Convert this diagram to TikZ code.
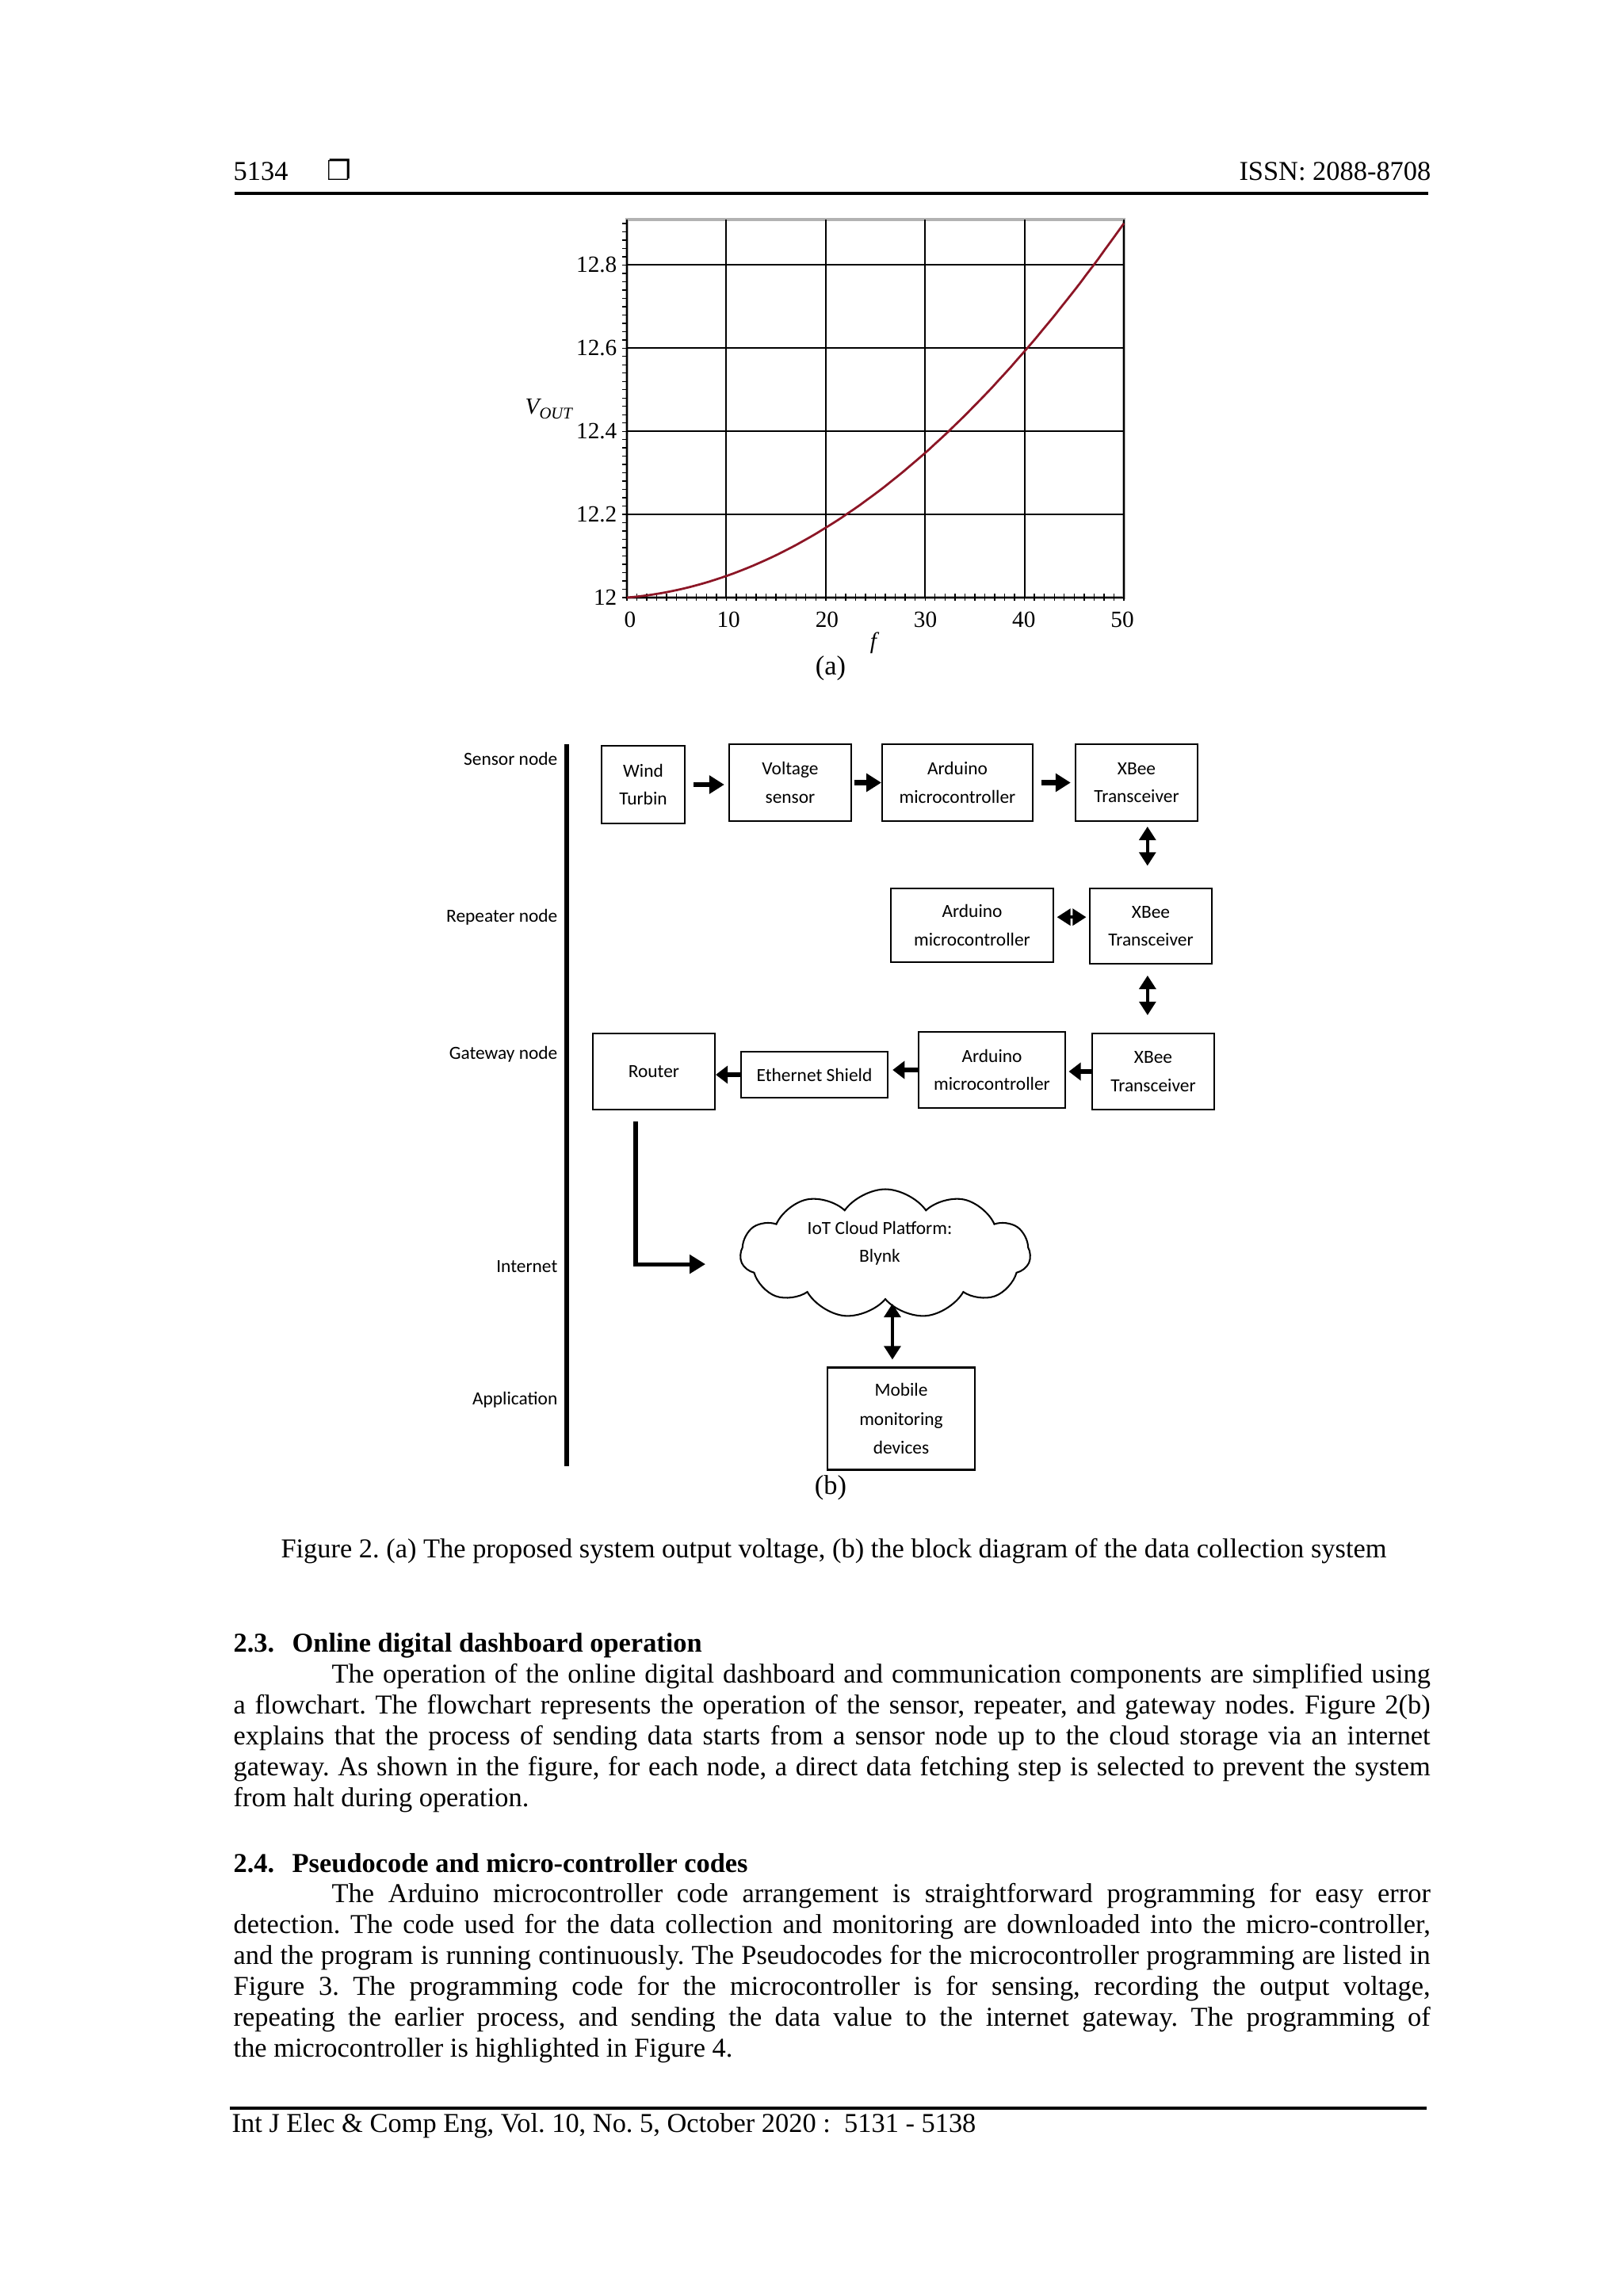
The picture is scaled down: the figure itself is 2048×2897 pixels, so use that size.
\documentclass[tikz,border=0pt]{standalone}
\usepackage{fontspec}
\setmainfont{Liberation Serif}
\newfontfamily\calfnt{Carlito}
\newfontfamily\djv{DejaVu Sans}
\usetikzlibrary{arrows.meta,shapes.symbols,calc}
\definecolor{curvec}{RGB}{140,22,38}
\frenchspacing
\newcommand\jl[1]{\hbox to 438.9pt{#1}}
\newcommand\ji[1]{\hbox to 402.9pt{#1}}
\tikzset{
  sz/.style 2 args={minimum width=#1*0.29067pt,minimum height=#2*0.29067pt},
  blk/.style={draw,line width=0.6pt,inner sep=0pt,align=center,font=\calfnt\fontsize{6.8}{10.3}\selectfont},
  lab/.style={anchor=east,inner sep=0pt,font=\calfnt\fontsize{6.8}{8}\selectfont},
  arr/.style={line width=2pt,-{Triangle[length=5.5pt,width=6.5pt]}},
  arrg/.style={line width=1.8pt,-{Triangle[length=4.4pt,width=6.4pt]}},
  dbl/.style={line width=1.3pt,{Triangle[length=5pt,width=6pt]}-{Triangle[length=5pt,width=6pt]}},
  larr/.style={line width=1.5pt,-{Triangle[length=5.8pt,width=6.7pt]}},
  txt/.style={anchor=base west,inner sep=0pt,font=\fontsize{10}{11.5}\selectfont},
  tck/.style={inner sep=0pt,font=\fontsize{8.5}{10}\selectfont},
}
\begin{document}
\begin{tikzpicture}[x=0.29067pt,y=-0.29067pt]
\fill[white] (0,0) rectangle (2048,2897);
\useasboundingbox (0,0) rectangle (2048,2897);

% header
\node[txt] (pg) at (294,227) {5134};
\node[txt,font=\djv\bfseries\fontsize{10}{12}\selectfont] (sym) at (412,227) {❐};
\node[txt,anchor=base east] (issn) at (1806,227) {ISSN: 2088-8708};
\draw[line width=0.9pt] (296,244) -- (1802,244);

% plot (a)
\draw[gray!60,line width=1pt] (791,277) rectangle (1418,754);
\foreach \k in {1,...,5} \draw[line width=0.6pt] ({791+125.4*\k},277) -- ({791+125.4*\k},754);
\foreach \k in {1,...,4} \draw[line width=0.6pt] (791,{754-104.9*\k}) -- (1418,{754-104.9*\k});
\foreach \k in {0,...,45} \draw[line width=0.4pt] (785,{754-10.49*\k}) -- (791,{754-10.49*\k});
\foreach \k in {0,...,50} \draw[line width=0.4pt] ({791+12.54*\k},749) -- ({791+12.54*\k},758);
\draw[line width=0.8pt] (791,277) -- (791,754) -- (1418,754);
\draw[curvec,line width=0.8pt] plot[domain=0:50,samples=80] ({791+12.54*\x},{754-524.5*(0.002*\x+0.000325*\x*\x)});
\foreach \v/\k in {12/0,12.2/1,12.4/2,12.6/3,12.8/4}
  \node[tck,anchor=east] (yl\k) at (779,{754-104.9*\k}) {\v};
\foreach \f in {0,10,20,30,40,50}
  \node[tck] (xl\f) at ({795+12.42*\f},782) {\f};
\node[tck,font=\itshape\fontsize{8.5}{10}\selectfont] (fl) at (1102,811) {f};
\node[tck,anchor=base west] (vl) at (662,522) {\itshape V\raisebox{-0.45ex}{\fontsize{6}{7}\selectfont OUT}};
\node[txt,anchor=base] (pa) at (1048,851) {(a)};

% diagram (b)
\draw[line width=1.6pt] (715,939) -- (715,1850);
\node[lab] (l1) at (704,957) {Sensor node};
\node[lab] (l2) at (704,1157) {Repeater node};
\node[lab] (l3) at (704,1330) {Gateway node};
\node[lab] (l4) at (704,1598) {Internet};
\node[lab] (l5) at (704,1766) {Application};

\node[blk,sz={105}{98}] (wt) at (811.5,990) {Wind\\Turbin};
\node[blk,sz={154}{97}] (vs) at (997,987.5) {Voltage\\sensor};
\node[blk,sz={190}{97}] (sa) at (1208,987.5) {Arduino\\microcontroller};
\node[blk,sz={154}{97}] (sx) at (1434,987.5) {XBee\\Transceiver};
\node[blk,sz={205}{93}] (ra) at (1226.5,1167.5) {Arduino\\microcontroller};
\node[blk,sz={154}{95}] (rx) at (1452,1168.5) {XBee\\Transceiver};
\node[blk,sz={154}{96}] (ro) at (825,1352) {Router};
\node[blk,sz={185}{58}] (es) at (1027.5,1356) {Ethernet Shield};
\node[blk,sz={185}{96}] (ga) at (1251.5,1350) {Arduino\\microcontroller};
\node[blk,sz={154}{96}] (gx) at (1455,1352) {XBee\\Transceiver};
\node[blk,cloud,cloud puffs=11,cloud puff arc=110,aspect=2.2,sz={366}{163}] (cl) at (1117,1582) {};
\node[blk,draw=none] (clt) at (1110,1569) {IoT Cloud Platform:\\Blynk};
\node[blk,sz={186}{129},font=\calfnt\fontsize{6.8}{10.5}\selectfont] (mob) at (1137,1790) {Mobile\\monitoring\\devices};
\node[txt,anchor=base] (pb) at (1048,1885) {(b)};

\draw[arr,shorten <=3pt,shorten >=1.5pt] (wt.east) -- (wt.east -| vs.west);
\draw[arr,shorten <=1pt] (vs.east) -- (vs.east -| sa.west);
\draw[arr,shorten <=3pt,shorten >=1.5pt] (sa.east) -- (sa.east -| sx.west);
\draw[dbl,shorten <=1.7pt,shorten >=8pt] ([xshift=4pt]sx.south) -- ([xshift=4pt]sx.south |- rx.north);
\draw[dbl,shorten <=1pt,shorten >=1pt] ([yshift=3pt]ra.east) -- ([yshift=3pt]ra.east -| rx.west);
\draw[dbl,shorten <=4pt,shorten >=6.4pt] ([xshift=-1.2pt]rx.south) -- ([xshift=-1.2pt]rx.south |- gx.north);
\draw[arrg,shorten >=1pt] (gx.west) -- (gx.west -| ga.east);
\draw[arrg,shorten >=1.5pt] (ga.west) -- (ga.west -| es.east);
\draw[arrg] (es.west) -- (es.west -| ro.east);
\draw[larr] ([xshift=-6.7pt,yshift=-4.1pt]ro.south) |- ([xshift=-12.5pt,yshift=-3.8pt]cl.west);
\draw[dbl,shorten <=1.2pt,shorten >=2.6pt] ([xshift=2.6pt]cl.south) -- ([xshift=2.6pt]cl.south |- mob.north);

% caption
\node[txt,anchor=base] (cap) at (1052,1965) {Figure 2. (a) The proposed system output voltage, (b) the block diagram of the data collection system};

% section 2.3
\node[txt,font=\bfseries\fontsize{10}{11.5}\selectfont] (h1n) at (294,2084) {2.3.};
\node[txt,font=\bfseries\fontsize{10}{11.5}\selectfont] (h1) at (368,2084) {Online digital dashboard operation};
\node[txt] (p1a) at (418,2123) {\ji{The operation of the online digital dashboard and communication components are simplified using}};
\node[txt] (p1b) at (294,2162) {\jl{a flowchart. The flowchart represents the operation of the sensor, repeater, and gateway nodes. Figure 2(b)}};
\node[txt] (p1c) at (294,2201) {\jl{explains that the process of sending data starts from a sensor node up to the cloud storage via an internet}};
\node[txt] (p1d) at (294,2240) {\jl{gateway. As shown in the figure, for each node, a direct data fetching step is selected to prevent the system}};
\node[txt] (p1e) at (294,2279) {from halt during operation.};

% section 2.4
\node[txt,font=\bfseries\fontsize{10}{11.5}\selectfont] (h2n) at (294,2362) {2.4.};
\node[txt,font=\bfseries\fontsize{10}{11.5}\selectfont] (h2) at (368,2362) {Pseudocode and micro-controller codes};
\node[txt] (p2a) at (418,2400) {\ji{The Arduino microcontroller code arrangement is straightforward programming for easy error}};
\node[txt] (p2b) at (294,2439) {\jl{detection. The code used for the data collection and monitoring are downloaded into the micro-controller,}};
\node[txt] (p2c) at (294,2478) {\jl{and the program is running continuously. The Pseudocodes for the microcontroller programming are listed in}};
\node[txt] (p2d) at (294,2517) {\jl{Figure 3. The programming code for the microcontroller is for sensing, recording the output voltage,}};
\node[txt] (p2e) at (294,2556) {\jl{repeating the earlier process, and sending the data value to the internet gateway. The programming of}};
\node[txt] (p2f) at (294,2595) {the microcontroller is highlighted in Figure 4.};

% footer
\draw[line width=0.9pt] (290,2660) -- (1800,2660);
\node[txt] (foot) at (292,2690) {Int J Elec \& Comp Eng, Vol. 10, No. 5, October 2020 :\ \ 5131 - 5138};
\end{tikzpicture}
\end{document}
